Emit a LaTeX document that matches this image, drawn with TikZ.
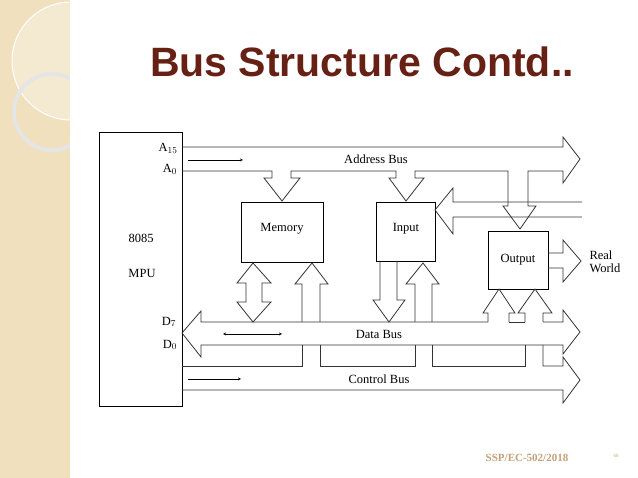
\documentclass[tikz,border=0pt]{standalone}
\usepackage{fontspec}
\setmainfont{Liberation Serif}
\newfontfamily\titlefont{Liberation Sans}
\usetikzlibrary{arrows}
\definecolor{sand}{RGB}{240,224,190}
\definecolor{titlered}{RGB}{102,32,20}
\definecolor{footbrown}{RGB}{196,160,120}
\begin{document}
\begin{tikzpicture}[x=1pt, y=-1pt, >=stealth]
			\tikzstyle{box} = [draw, thick, inner sep=0pt, anchor=north west]
			\tikzstyle{bus} = [thick, black!80, line join=miter]
			\tikzstyle{lbl} = [font=\fontsize{12.5}{13}\selectfont]
			\useasboundingbox (0,0) rectangle (638,478);
			% slide
			\fill[sand] (0,0) rectangle (70,478);
			\begin{scope}
			\clip (0,0) rectangle (70,478);
			\fill[white, opacity=0.3] (71,61) circle (59);
			\draw[white, line width=1pt] (71,61) circle (59);
			\draw[gray!20, line width=4pt] (52,112) circle (38);
			\end{scope}
			\node[titlered, font=\titlefont\bfseries\fontsize{41}{44}\selectfont] (title) at (362,62) {Bus Structure Contd..};
			\node[footbrown, font=\bfseries\fontsize{11}{12}\selectfont] (foot) at (527,458) {SSP/EC-502/2018};
			\node[footbrown, font=\fontsize{5}{6}\selectfont] (pg) at (616,456) {60};

			% blocks
			\node[box, minimum width=83, minimum height=274] (mpu) at (99,132) {};
			\node[box, minimum width=82, minimum height=60] (mem) at (241,202) {};
			\node[box, minimum width=59, minimum height=59] (inp) at (376,202) {};
			\node[box, minimum width=60, minimum height=58] (out) at (488,231) {};
			\node[lbl] at (282,229) {Memory};
			\node[lbl] at (406,229) {Input};
			\node[lbl] at (518,260) {Output};
			\node[lbl] at (141,238) {8085};
			\node[lbl] at (142,273) {MPU};
			\node[lbl] at (168,148) {A$_{15}$};
			\node[lbl] at (170,169) {A$_0$};
			\node[lbl] at (169,322) {D$_7$};
			\node[lbl] at (170,345) {D$_0$};
			\node[lbl, align=left, anchor=west] at (586,262) {Real\\World};

			% address bus
			\draw[bus] (182,147) -- (563,147) -- (563,137) -- (580,159) -- (563,183) -- (563,171) -- (528,171)
			  -- (528,206) -- (536,206) -- (520,229) -- (503,206) -- (508,206) -- (508,171)
			  -- (415,171) -- (415,178) -- (424,178) -- (406,201) -- (389,178) -- (396,178) -- (396,171)
			  -- (291,171) -- (291,178) -- (300,178) -- (282,201) -- (264,178) -- (272,178) -- (272,171) -- (182,171);
			\node[lbl] at (376,159) {Address Bus};
			\draw[->] (188,160) -- (243,160);
			% into input
			\draw[bus] (582,202) -- (453,202) -- (453,188) -- (435,210) -- (453,234) -- (453,217) -- (582,217);
			% real world
			\draw[bus] (548,253) -- (563,253) -- (563,240) -- (581,261) -- (563,282) -- (563,268) -- (548,268);

			% data bus
			\draw[bus] (488,322) -- (201,322) -- (201,311) -- (182,333) -- (201,357) -- (201,345) -- (563,345)
			  -- (563,354) -- (580,332) -- (563,310) -- (563,322) -- (543,322);
			\draw[bus] (509,322) -- (525,322);
			\node[lbl] at (379,334) {Data Bus};
			\draw[<->] (223,334) -- (282,334);
			% memory data (two-way)
			\draw[bus] (246,283) -- (237,283) -- (253,263) -- (271,283) -- (262,283) -- (262,302) -- (271,302)
			  -- (253,322) -- (237,302) -- (246,302) -- cycle;
			% memory control
			\draw[bus] (302,322) -- (302,284) -- (295,284) -- (312,263) -- (328,284) -- (320,284) -- (320,322);
			% input data
			\draw[bus] (380,261) -- (380,300) -- (373,300) -- (389,322) -- (405,300) -- (397,300) -- (397,261);
			% input control
			\draw[bus] (415,322) -- (415,284) -- (406,284) -- (423,263) -- (439,284) -- (432,284) -- (432,322);
			% output
			\draw[bus] (488,322) -- (488,313) -- (483,313) -- (499,289) -- (515,313) -- (509,313) -- (509,322);
			\draw[bus] (525,322) -- (525,313) -- (518,313) -- (535,289) -- (552,313) -- (543,313) -- (543,322);

			% control bus
			\draw[bus] (182,366) -- (302,366) -- (302,345);
			\draw[bus] (320,345) -- (320,366) -- (415,366) -- (415,345);
			\draw[bus] (432,345) -- (432,366) -- (525,366) -- (525,345);
			\draw[bus] (543,345) -- (543,366) -- (563,366) -- (563,357) -- (580,380) -- (563,403) -- (563,390) -- (182,390);
			\node[lbl] at (379,379) {Control Bus};
			\draw[->] (188,379) -- (241,379);
\end{tikzpicture}
\end{document}
